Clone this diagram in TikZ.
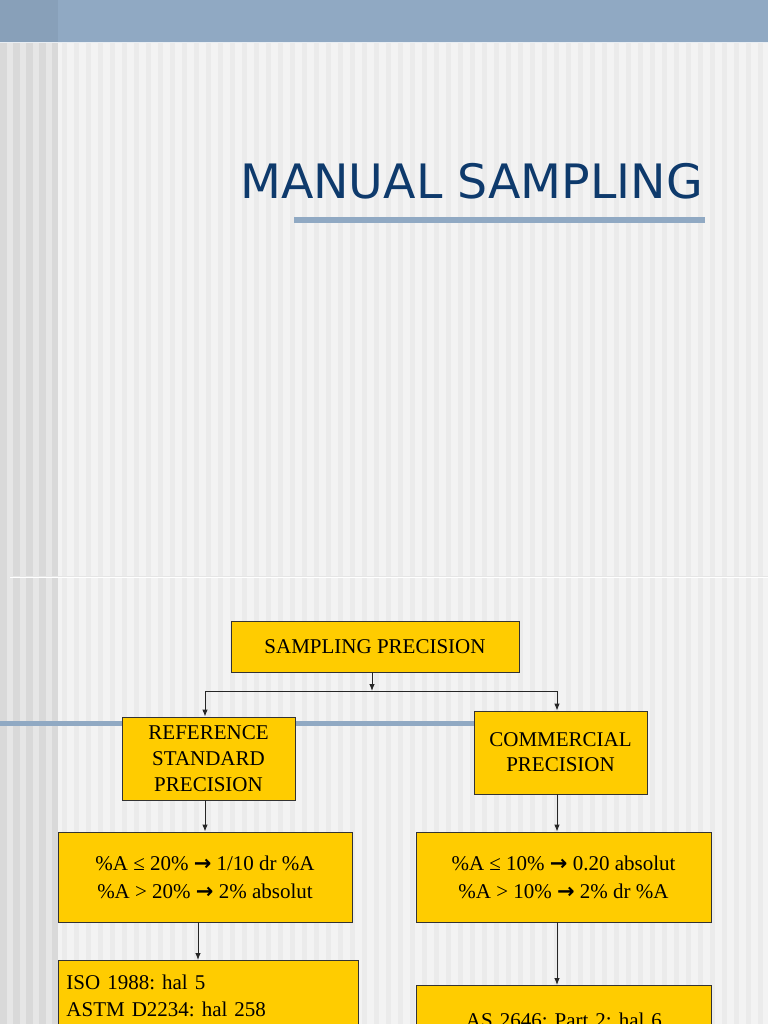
\documentclass[tikz,border=0pt]{standalone}
\usepackage{fontspec}
\setmainfont{Liberation Serif}
\newfontfamily\titlefont{DejaVu Sans}
\newfontfamily\symfont{DejaVu Sans Bold}
\usetikzlibrary{arrows.meta}
\definecolor{bandblue}{HTML}{90A9C3}
\definecolor{titleblue}{HTML}{0E3A6C}
\definecolor{boxyellow}{HTML}{FFCC00}
\definecolor{bgA}{HTML}{F3F3F3}
\definecolor{bgB}{HTML}{EBEBEB}
\definecolor{stripA}{HTML}{E6E6E6}
\definecolor{stripB}{HTML}{D9D9D9}
\definecolor{edgecol}{HTML}{333333}
\newcommand{\rarr}{{\symfont →}}
\frenchspacing
\begin{document}
\begin{tikzpicture}[x=1pt,y=-1pt,
  box/.style={draw=edgecol, line width=0.9pt, fill=boxyellow, inner sep=0pt, align=center, font=\fontsize{21}{26}\selectfont},
  conn/.style={line width=0.9pt, draw=black!85, -{Latex[length=7pt,width=5.5pt]}},
  plainline/.style={line width=0.9pt, draw=black!85}]
\useasboundingbox (0,0) rectangle (768,1024);
\clip (0,0) rectangle (768,1024);
% background
\fill[bgA] (0,0) rectangle (768,1024);
\foreach \x in {62,74,...,768} \fill[bgB] (\x,0) rectangle ++(5,1024);
\foreach \x in {0,13,26,39} {
  \fill[stripB] (\x,0) rectangle ++(7,1024);
  \fill[stripA] (\x+7,0) rectangle ++(6,1024);
}
\fill[stripB] (52,0) rectangle (58,1024);
% top band
\fill[bandblue] (0,0) rectangle (768,42);
\fill[black, opacity=0.05] (0,0) rectangle (58,42);
\draw[white!80!bandblue, line width=1pt] (0,42.5) -- (768,42.5);
% title
\node[anchor=base west, text=titleblue, font=\titlefont\fontsize{47.4}{48}\selectfont, inner sep=0pt] (title) at (240,198.5) {MANUAL SAMPLING};
\fill[bandblue] (294,217.5) rectangle (705,223.5);
% faint slide edge
\draw[black!10, line width=1pt] (10,576) -- (768,576);
\draw[white, line width=1pt] (10,577.5) -- (768,577.5);
% blue line of second slide
\fill[bandblue] (0,721) rectangle (500,726);
% nodes
\node[box, minimum width=288pt, minimum height=51pt] (sp) at (375,646.5) {SAMPLING PRECISION};
\node[box, minimum width=173pt, minimum height=83pt] (rs) at (208.5,758.5) {REFERENCE\\STANDARD\\PRECISION};
\node[box, minimum width=173pt, minimum height=83pt, font=\fontsize{21}{25}\selectfont] (cp) at (560.5,752.5) {COMMERCIAL\\PRECISION};
\node[box, minimum width=294pt, minimum height=90pt, font=\fontsize{21}{27.7}\selectfont] (lm) at (205,877) {\%A ≤ 20\% \rarr{} 1/10 dr \%A\\\%A > 20\% \rarr{} 2\% absolut};
\node[box, minimum width=295pt, minimum height=90pt, font=\fontsize{21}{27.7}\selectfont] (rm) at (563.5,877) {\%A ≤ 10\% \rarr{} 0.20 absolut\\\%A > 10\% \rarr{} 2\% dr \%A};
\node[box, anchor=north west, align=left, text width=284pt, inner xsep=8pt, inner ysep=14.7pt, font=\fontsize{21}{26.5}\selectfont] (lb) at (58,960) {ISO 1988: hal 5\\ASTM D2234: hal 258};
\node[box, anchor=north west, align=center, text width=279pt, inner xsep=8pt, inner ysep=27.7pt, font=\fontsize{21}{26.5}\selectfont] (rb) at (416,985) {AS 2646: Part 2: hal 6};
% connectors
\coordinate (jc) at (372,691);
\coordinate (jl) at (205,691);
\coordinate (jr) at (557,691);
\coordinate (jl2) at (198,0);
\draw[conn] (jc |- sp.south) -- (jc);
\draw[plainline] (jl) -- (jr);
\draw[conn] (jl) -- (jl |- rs.north);
\draw[conn] (jr) -- (jr |- cp.north);
\draw[conn] (jl |- rs.south) -- (jl |- lm.north);
\draw[conn] (jl2 |- lm.south) -- (jl2 |- lb.north);
\draw[conn] (jr |- cp.south) -- (jr |- rm.north);
\draw[conn] (jr |- rm.south) -- (jr |- rb.north);
\end{tikzpicture}
\end{document}
